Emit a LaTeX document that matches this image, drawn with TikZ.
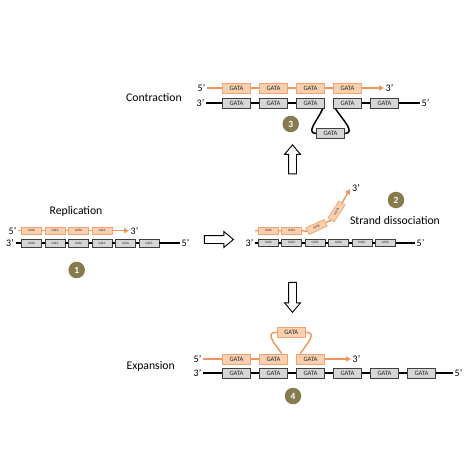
\documentclass[tikz,border=0pt]{standalone}
\usepackage{fontspec}
\setmainfont{Carlito}
\usetikzlibrary{shapes.arrows,arrows.meta}

\definecolor{orline}{HTML}{F0955A}
\definecolor{orfill}{HTML}{FAD0B0}
\definecolor{orbox}{HTML}{F2A36E}
\definecolor{grfill}{HTML}{D6D6D6}
\definecolor{grline}{HTML}{404040}
\definecolor{olivedot}{HTML}{857B4D}

\begin{document}
\begin{tikzpicture}[x=1pt, y=-1pt, text=black,
  obox/.style={draw=orbox, fill=orfill, line width=0.7pt, inner sep=0pt, minimum width=28pt, minimum height=10pt, text=black!85, font=\fontsize{6.6}{7}\selectfont},
  gbox/.style={draw=grline, fill=grfill, line width=0.7pt, inner sep=0pt, minimum width=28pt, minimum height=10pt, text=black!85, font=\fontsize{6.6}{7}\selectfont},
  tinybox/.style={minimum width=20pt, minimum height=7.3pt, font=\fontsize{3.3}{3.5}\selectfont},
  ostrand/.style={orline, line width=1.4pt},
  gstrand/.style={black, line width=1.8pt},
  otip/.style={-{Triangle[length=5pt,width=5pt]}},
  endlab/.style={inner sep=1.5pt, font=\fontsize{10}{11}\selectfont},
  steplab/.style={font=\fontsize{11.7}{13}\selectfont},
  numdot/.style={circle, fill=olivedot, text=white, minimum size=16.5pt, inner sep=0pt, font=\fontsize{9.5}{10}\selectfont\bfseries},
  blockarrow/.style={single arrow, draw, line width=0.9pt, fill=white, inner sep=3.5pt, minimum height=29pt, single arrow head extend=4pt, single arrow tip angle=80}
]
\useasboundingbox (0,0) rectangle (474,474);

%Contraction
\def\cty{88}
\def\cby{103}
\node[steplab] (contr) at (154,97.5) {Contraction};
\foreach \i/\x in {1/236.5,2/273.5,3/310.5,4/347.5}
  \node[obox] (ct\i) at (\x,\cty) {GATA};
\foreach \i/\x in {1/236.5,2/273.5,3/310.5,4/347.5,5/384.5}
  \node[gbox] (cb\i) at (\x,\cby) {GATA};
\node[gbox] (cl) at (330.5,133.5) {GATA};
\node[endlab, anchor=east] (ctfive) at (207,\cty) {5’};
\node[endlab, anchor=west] (ctthree) at (384,\cty) {3’};
\node[endlab, anchor=east] (cbthree) at (206,\cby) {3’};
\node[endlab, anchor=west] (cbfive) at (420,\cby) {5’};
\draw[ostrand] (ctfive.east) -- (ct1.west) (ct1.east) -- (ct2.west) (ct2.east) -- (ct3.west) (ct3.east) -- (ct4.west);
\draw[ostrand, otip] (ct4.east) -- (ctthree.west);
\draw[gstrand] (cbthree.east) -- (cb1.west) (cb1.east) -- (cb2.west) (cb2.east) -- (cb3.west) (cb4.east) -- (cb5.west) (cb5.east) -- (cbfive.west);
%loop out of the template
\draw[black, line width=1.5pt] ([xshift=-2pt]cb3.south east) .. controls (318,120) and (305,133) .. (cl.west);
\draw[black, line width=1.5pt] ([xshift=2pt]cb4.south west) .. controls (343,120) and (356,133) .. (cl.east);
\node[numdot] (n3) at (290.7,124) {3};

%arrows between steps
\node[blockarrow, shape border rotate=90] (up) at (292.5,161.7) {};
\node[blockarrow] (right) at (216.5,239.5) {};
\node[blockarrow, shape border rotate=270, minimum height=30pt] (down) at (292.5,295) {};

%Replication
\def\rty{230.7}
\def\rby{243.3}
\node[steplab] (repl) at (76,211.5) {Replication};
\foreach \i/\x in {1/31.5,2/55,3/78.5,4/102}
  \node[obox, tinybox] (rt\i) at (\x,\rty) {GATA};
\foreach \i/\x in {1/31.5,2/55,3/78.5,4/102,5/125.5,6/149}
  \node[gbox, tinybox] (rb\i) at (\x,\rby) {GATA};
\node[endlab, anchor=east] (rtfive) at (18,\rty) {5’};
\node[endlab, anchor=west] (rtthree) at (129,\rty) {3’};
\node[endlab, anchor=east] (rbthree) at (15.5,\rby) {3’};
\node[endlab, anchor=west] (rbfive) at (180,\rby) {5’};
\draw[ostrand] (rtfive.east) -- (rt1.west) (rt1.east) -- (rt2.west) (rt2.east) -- (rt3.west) (rt3.east) -- (rt4.west);
\draw[ostrand, otip] (rt4.east) -- (rtthree.west);
\draw[gstrand] (rbthree.east) -- (rb1.west);
\foreach \i [evaluate=\i as \j using int(\i+1)] in {1,...,5}
  \draw[gstrand] (rb\i.east) -- (rb\j.west);
\draw[gstrand] (rb6.east) -- (rbfive.west);
\node[numdot] (n1) at (76.7,270) {1};

%Strand dissociation
\def\sty{230.7}
\def\sby{242.7}
\node[steplab] (diss) at (395,220.7) {Strand dissociation};
\foreach \i/\x in {1/268.3,2/291.7,3/315.1,4/338.5,5/361.9,6/385.3}
  \node[gbox, tinybox] (sb\i) at (\x,\sby) {GATA};
\node[obox, tinybox] (st1) at (268.3,\sty) {GATA};
\node[obox, tinybox] (st2) at (291.7,\sty) {GATA};
\node[obox, tinybox, rotate=25] (st3) at (316.5,227) {GATA};
\node[obox, tinybox, rotate=57] (st4) at (336.5,211.5) {GATA};
\coordinate (sst) at (255,\sty);
\coordinate (send) at (350,189);
\node[endlab, anchor=south west] (stthree) at (350.5,193) {3’};
\node[endlab, anchor=east] (sbthree) at (255,\sby) {3’};
\node[endlab, anchor=west] (sbfive) at (415,\sby) {5’};
\draw[ostrand] (sst) -- (st1.west) (st1.east) -- (st2.west) (st2.east) -- (st3.west) (st3.east) -- (st4.west);
\draw[ostrand, otip] (st4.east) -- (send);
\draw[gstrand] (sbthree.east) -- (sb1.west);
\foreach \i [evaluate=\i as \j using int(\i+1)] in {1,...,5}
  \draw[gstrand] (sb\i.east) -- (sb\j.west);
\draw[gstrand] (sb6.east) -- (sbfive.west);
\node[numdot] (n2) at (396,200) {2};

%Expansion
\def\ety{359}
\def\eby{373.3}
\node[steplab] (expa) at (150.7,366.7) {Expansion};
\foreach \i/\x in {1/236.5,2/273.5,3/310.5}
  \node[obox] (et\i) at (\x,\ety) {GATA};
\foreach \i/\x in {1/236.5,2/273.5,3/310.5,4/347.5,5/384.5,6/421.5}
  \node[gbox] (eb\i) at (\x,\eby) {GATA};
\node[obox] (el) at (291.3,332.3) {GATA};
\node[endlab, anchor=east] (etfive) at (203,\ety) {5’};
\node[endlab, anchor=west] (etthree) at (351,\ety) {3’};
\node[endlab, anchor=east] (ebthree) at (203,\eby) {3’};
\node[endlab, anchor=west] (ebfive) at (453,\eby) {5’};
\draw[ostrand] (etfive.east) -- (et1.west) (et1.east) -- (et2.west);
\draw[ostrand, otip] (et3.east) -- (etthree.west);
\draw[gstrand] (ebthree.east) -- (eb1.west);
\foreach \i [evaluate=\i as \j using int(\i+1)] in {1,...,5}
  \draw[gstrand] (eb\i.east) -- (eb\j.west);
\draw[gstrand] (eb6.east) -- (ebfive.west);
%loop out of the new strand
\draw[ostrand] ([xshift=-6pt]et2.north east) .. controls (275,344) and (264,332) .. (el.west);
\draw[ostrand] ([xshift=4pt]et3.north west) .. controls (307,344) and (318,332) .. (el.east);
\node[numdot] (n4) at (293,396) {4};

\end{tikzpicture}
\end{document}
